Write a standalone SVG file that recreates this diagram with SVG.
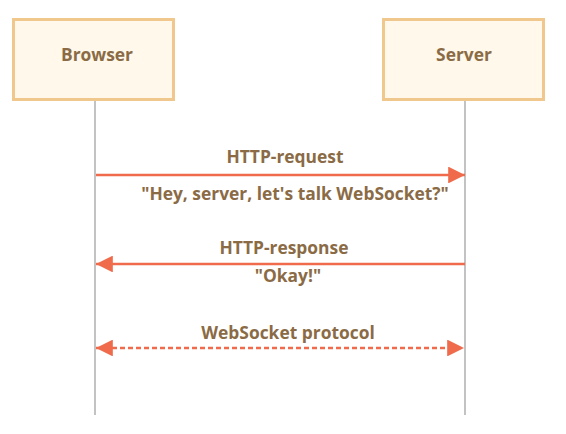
<svg xmlns="http://www.w3.org/2000/svg" width="566" height="434" viewBox="0 0 566 434">
<style>
.box{fill:#fff8eb;stroke:#f0c88e;stroke-width:3}
.life{stroke:#9a9a9a;stroke-width:1.2;fill:none}
.msg{stroke:#ef6b4b;stroke-width:2.4;fill:none}
.dash{stroke-dasharray:5 3}
text{font-family:"Open Sans","Noto Sans",sans-serif;font-weight:bold;font-size:17.4px;fill:#8a6b45;text-anchor:middle}
</style>
<defs>
<marker id="ah" viewBox="0 0 10 10" refX="10" refY="5" markerWidth="7.6" markerHeight="7" orient="auto-start-reverse" markerUnits="strokeWidth">
<path d="M0,0 L10,5 L0,10 z" fill="#ef6b4b"/>
</marker>
</defs>
<g id="browser">
<rect class="box" x="13.5" y="19.5" width="160" height="80"/>
<text x="97" y="61">Browser</text>
</g>
<g id="server">
<rect class="box" x="383.5" y="19.5" width="160" height="80"/>
<text x="464" y="61">Server</text>
</g>
<g id="lifelines">
<line class="life" x1="95" y1="101" x2="95" y2="415"/>
<line class="life" x1="465" y1="101" x2="465" y2="415"/>
</g>
<g id="connectors">
<line class="msg" x1="96" y1="175" x2="465" y2="175" marker-end="url(#ah)"/>
<line class="msg" x1="465" y1="264" x2="96" y2="264" marker-end="url(#ah)"/>
<line class="msg dash" x1="96" y1="348" x2="464" y2="348" marker-start="url(#ah)" marker-end="url(#ah)"/>
</g>
<g id="labels">
<text x="285" y="163">HTTP-request</text>
<text x="295" y="200">"Hey, server, let's talk WebSocket?"</text>
<text x="284" y="254">HTTP-response</text>
<text x="288" y="282">"Okay!"</text>
<text x="288" y="339">WebSocket protocol</text>
</g>
</svg>
